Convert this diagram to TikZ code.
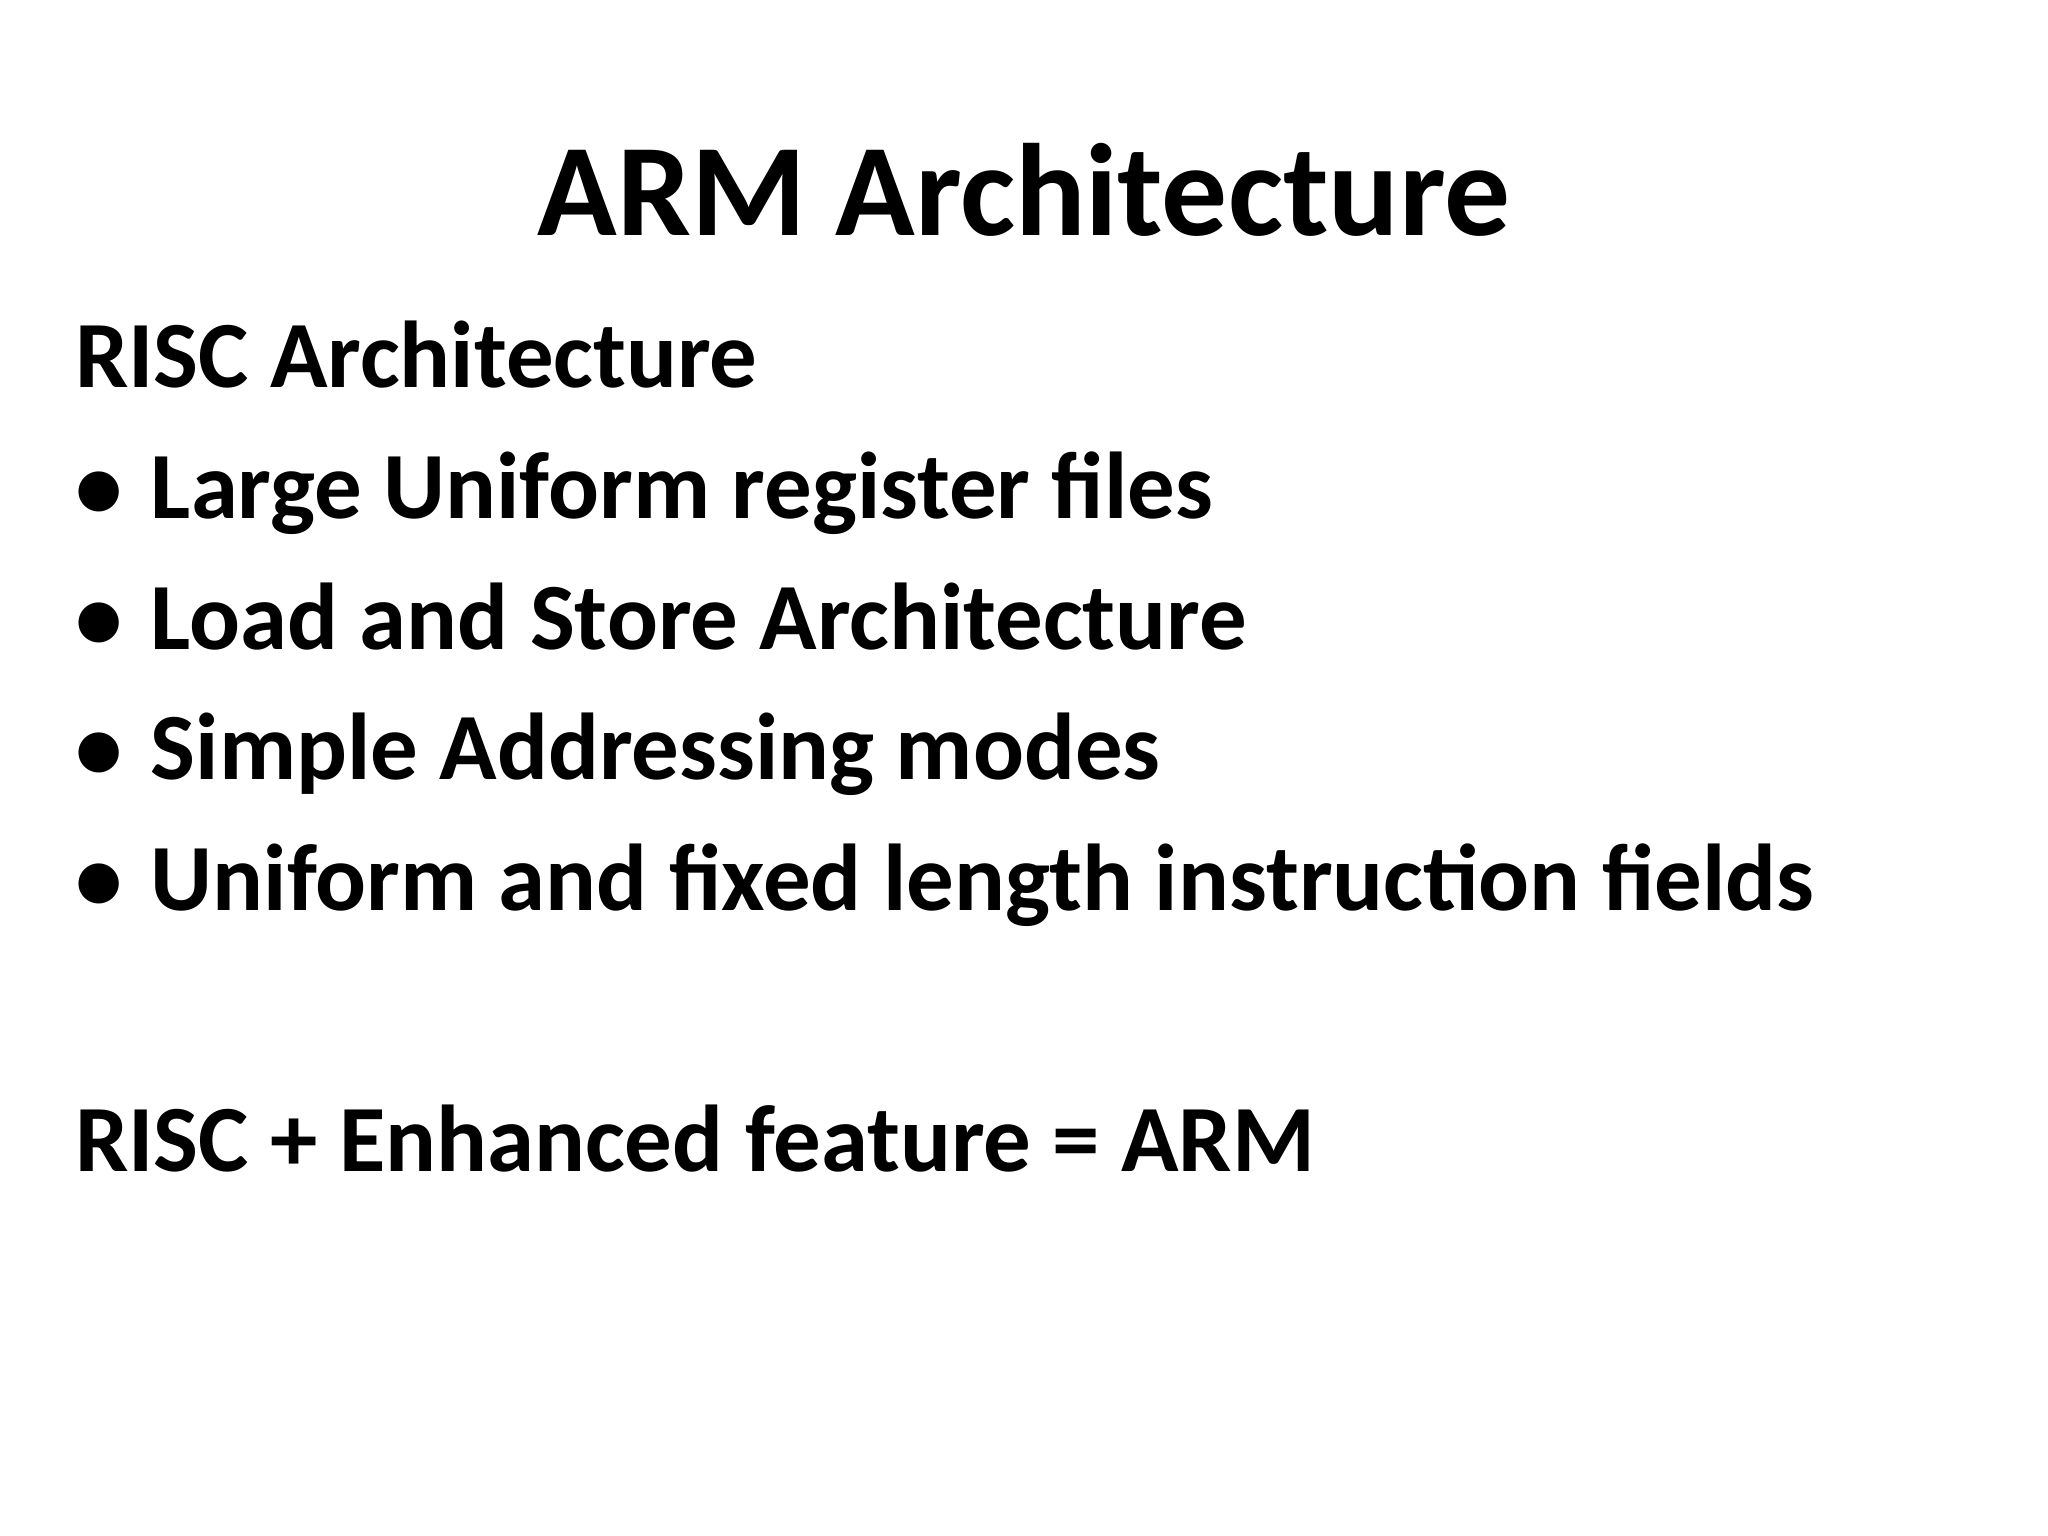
\documentclass[tikz,border=0pt]{standalone}
\usepackage{fontspec}
\setmainfont{Carlito}
\begin{document}
\begin{tikzpicture}[x=0.013061cm,y=-0.013061cm,
  body/.style={anchor=base west,inner sep=0pt,font=\bfseries\fontsize{27}{32}\selectfont},
  title/.style={anchor=base,inner sep=0pt,font=\bfseries\fontsize{37.4}{44}\selectfont}]
\useasboundingbox[fill=white] (0,0) rectangle (1568,1176);
\node[title] (t) at (784,180) {ARM Architecture};
\node[body] (h) at (57,297) {RISC Architecture};
\foreach \y/\txt/\n in {397/Large Uniform register files/a,497/Load and Store Architecture/b,597/Simple Addressing modes/c,697/Uniform and fixed length instruction fields/d}{
  \node[body] (b\n) at (57,\y) {•};
  \node[body] (i\n) at (115,\y) {\txt};
}
\node[body] (e) at (57,897) {RISC + Enhanced feature = ARM};
\end{tikzpicture}
\end{document}
